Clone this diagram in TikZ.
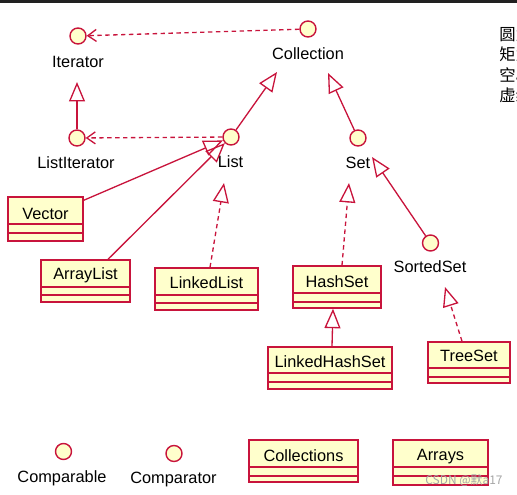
\documentclass[tikz,border=0pt]{standalone}
\usepackage{fontspec}
\setmainfont{Liberation Sans}
\newfontfamily\cjk{Noto Sans CJK SC}
\usetikzlibrary{arrows.meta}
\definecolor{umlred}{RGB}{200,20,60}
\definecolor{umlfill}{RGB}{255,255,204}

\tikzset{
  iface/.style={circle, draw=umlred, fill=umlfill, line width=0.8pt, minimum size=0.32cm, inner sep=0pt},
  classbox/.style={draw=umlred, fill=umlfill, line width=0.8pt, inner sep=0pt},
  txt/.style={anchor=base, inner sep=0pt, font=\fontsize{9.3}{11}\selectfont},
  umlline/.style={umlred, line width=0.75pt},
  inherit/.style={umlline, -{Triangle[open, length=0.39cm, width=0.32cm, line width=0.75pt]}},
  realize/.style={inherit, dash pattern=on 2.5pt off 2pt},
  depend/.style={umlline, dash pattern=on 2.5pt off 2pt, -{Straight Barb[length=0.17cm, width=0.24cm, line width=0.75pt]}}
}

\begin{document}
\begin{tikzpicture}[x=0.02cm, y=-0.02cm]
  \useasboundingbox (0,0) rectangle (517,494);
  \clip (0,0) rectangle (517,494);
  \fill[black!87] (0,0) rectangle (517,2.5);

  % interfaces
  \node[iface] (iterator) at (78,36) {};
  \node[txt] (iteratorT) at (78,67) {Iterator};
  \node[iface] (collection) at (308,29) {};
  \node[txt] (collectionT) at (308,59) {Collection};
  \node[iface] (listiterator) at (77,138) {};
  \node[txt] (listiteratorT) at (76,168) {ListIterator};
  \node[iface] (list) at (231,137) {};
  \node[txt] (listT) at (230.5,167) {List};
  \node[iface] (set) at (358,138) {};
  \node[txt] (setT) at (358,168) {Set};
  \node[iface] (sortedset) at (430.5,243) {};
  \node[txt] (sortedsetT) at (430,272) {SortedSet};
  \node[iface] (comparable) at (63.5,451.5) {};
  \node[txt] (comparableT) at (62,482) {Comparable};
  \node[iface] (comparator) at (174,453.5) {};
  \node[txt] (comparatorT) at (173.5,483) {Comparator};

  % classes
  \node[classbox, minimum width=1.5cm, minimum height=0.88cm] (vector) at (45.5,219) {};
  \draw[umlline] (vector.west |- 0,224) -- (vector.east |- 0,224)
                 (vector.west |- 0,233) -- (vector.east |- 0,233);
  \node[txt] (vectorT) at (45.5,219) {Vector};

  \node[classbox, minimum width=1.78cm, minimum height=0.84cm] (arraylist) at (85.5,281) {};
  \draw[umlline] (arraylist.west |- 0,287) -- (arraylist.east |- 0,287)
                 (arraylist.west |- 0,295) -- (arraylist.east |- 0,295);
  \node[txt] (arraylistT) at (85.5,279) {ArrayList};

  \node[classbox, minimum width=2.06cm, minimum height=0.84cm] (linkedlist) at (206.5,289) {};
  \draw[umlline] (linkedlist.west |- 0,295) -- (linkedlist.east |- 0,295)
                 (linkedlist.west |- 0,303) -- (linkedlist.east |- 0,303);
  \node[txt] (linkedlistT) at (206.5,288) {LinkedList};

  \node[classbox, minimum width=1.76cm, minimum height=0.84cm] (hashset) at (337,287) {};
  \draw[umlline] (hashset.west |- 0,293) -- (hashset.east |- 0,293)
                 (hashset.west |- 0,302) -- (hashset.east |- 0,302);
  \node[txt] (hashsetT) at (337,287) {HashSet};

  \node[classbox, minimum width=2.48cm, minimum height=0.84cm] (linkedhashset) at (330,368) {};
  \draw[umlline] (linkedhashset.west |- 0,373) -- (linkedhashset.east |- 0,373)
                 (linkedhashset.west |- 0,382) -- (linkedhashset.east |- 0,382);
  \node[txt] (linkedhashsetT) at (330,367) {LinkedHashSet};

  \node[classbox, minimum width=1.64cm, minimum height=0.82cm] (treeset) at (469,362.5) {};
  \draw[umlline] (treeset.west |- 0,368) -- (treeset.east |- 0,368)
                 (treeset.west |- 0,377) -- (treeset.east |- 0,377);
  \node[txt] (treesetT) at (469,361) {TreeSet};

  \node[classbox, minimum width=2.18cm, minimum height=0.84cm] (collections) at (303.5,461) {};
  \draw[umlline] (collections.west |- 0,467) -- (collections.east |- 0,467)
                 (collections.west |- 0,476) -- (collections.east |- 0,476);
  \node[txt] (collectionsT) at (303.5,461) {Collections};

  \node[classbox, minimum width=1.9cm, minimum height=0.9cm] (arrays) at (440.5,462.5) {};
  \draw[umlline] (arrays.west |- 0,467) -- (arrays.east |- 0,467)
                 (arrays.west |- 0,476) -- (arrays.east |- 0,476);
  \node[txt] (arraysT) at (440.5,460) {Arrays};

  % arrow tips that stop short of a label
  \coordinate (itTip) at (77,82);
  \coordinate (colTipL) at (277,72);
  \coordinate (colTipR) at (328,73);
  \coordinate (listTip) at (224,183);
  \coordinate (setTipL) at (349,183);
  \coordinate (setTipR) at (372,157);
  \coordinate (sortTip) at (445,287);

  % connectors
  \draw[depend] (collection) -- (iterator);
  \draw[depend] (list) -- (listiterator);
  \draw[inherit] (listiterator) -- (itTip);
  \draw[inherit] (list) -- (colTipL);
  \draw[inherit] (set) -- (colTipR);
  \draw[inherit] ([yshift=-0.08cm]vector.north east) -- (list);
  \draw[inherit] ([xshift=0.45cm]arraylist.north) -- (list);
  \draw[realize] ([xshift=0.07cm]linkedlist.north) -- (listTip);
  \draw[realize] ([xshift=0.1cm]hashset.north) -- (setTipL);
  \draw[inherit] (sortedset) -- (setTipR);
  \draw[realize] ([xshift=-0.14cm]treeset.north) -- (sortTip);
  \draw[inherit] ([xshift=0.04cm]linkedhashset.north) -- ([xshift=-0.08cm]hashset.south);

  % legend at the right edge, cut off
  \node[txt, anchor=base west, font=\cjk\fontsize{9.3}{11}\selectfont] (note1) at (499,40) {圆为};
  \node[txt, anchor=base west, font=\cjk\fontsize{9.3}{11}\selectfont] (note2) at (499,60) {矩为};
  \node[txt, anchor=base west, font=\cjk\fontsize{9.3}{11}\selectfont] (note3) at (499,81) {空心};
  \node[txt, anchor=base west, font=\cjk\fontsize{9.3}{11}\selectfont] (note4) at (499,101) {虚线};

  % watermark
  \node[txt, anchor=base west, text=gray!70, font=\cjk\fontsize{6.8}{8}\selectfont] (mark) at (425,484) {CSDN @默a17};
\end{tikzpicture}
\end{document}
